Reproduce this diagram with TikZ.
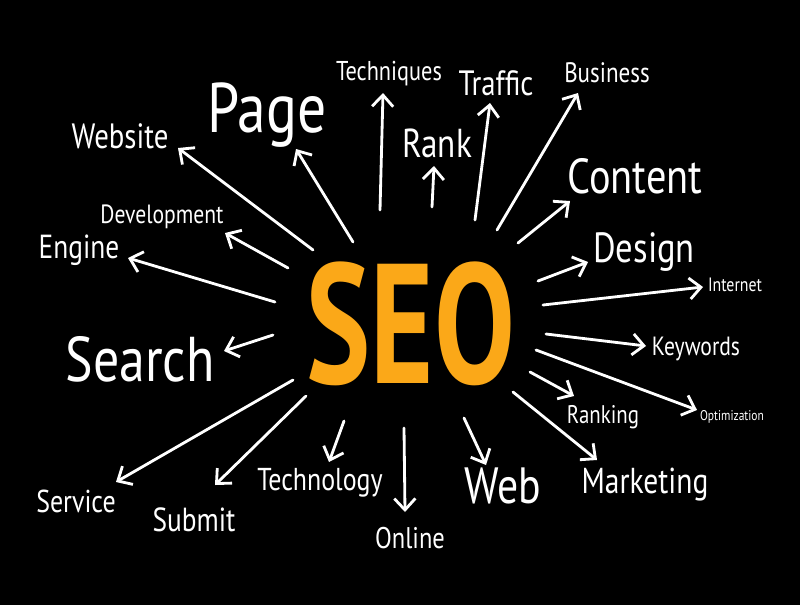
\documentclass[tikz,border=0pt]{standalone}
\usepackage{fontspec}
\setmainfont{PT Sans}[FakeStretch=0.82]
\newfontfamily\seofont{PT Sans}[FakeStretch=0.71]
\usetikzlibrary{arrows.meta}
\definecolor{seoorange}{RGB}{251,168,24}
\tikzset{
  word/.style={text=white, inner sep=0pt, anchor=base, font=\fontsize{#1}{#1}\selectfont},
  ray/.style={draw=white, line width=1.6pt, line cap=round,
    -{Straight Barb[length=6.5pt,width=12pt]}}
}

\begin{document}
\begin{tikzpicture}[x=0.02cm, y=-0.02cm]
      \fill[black] (0,0) rectangle (800,605);
      \useasboundingbox (0,0) rectangle (800,605);

      % MOT CENTRAL
      \node[word=97, text=seoorange, font=\fontsize{97}{97}\selectfont\seofont\bfseries] (seo) at (411,383) {SEO};

      % MOTS AUTOUR
      \node[word=40] (page) at (267,132) {Page};
      \node[word=15.5] (techniques) at (389,80) {Techniques};
      \node[word=20] (traffic) at (496,95) {Traffic};
      \node[word=16] (business) at (607,82) {Business};
      \node[word=23] (rank) at (437,157) {Rank};
      \node[word=20] (website) at (120,148) {Website};
      \node[word=28] (content) at (635,193) {Content};
      \node[word=15] (development) at (162,223) {Development};
      \node[word=19] (engine) at (79,258) {Engine};
      \node[word=24] (design) at (644,262) {Design};
      \node[word=11] (internet) at (735,291) {Internet};
      \node[word=36] (search) at (140,381) {Search};
      \node[word=15] (keywords) at (696,355) {Keywords};
      \node[word=14.5] (ranking) at (603,423) {Ranking};
      \node[word=8] (optimization) at (732,420) {Optimization};
      \node[word=18] (service) at (76,512) {Service};
      \node[word=19] (submit) at (194,531) {Submit};
      \node[word=18] (technology) at (320,490) {Technology};
      \node[word=17] (online) at (410,548) {Online};
      \node[word=29] (web) at (503,503) {Web};
      \node[word=20.5] (marketing) at (645,493) {Marketing};

      % DEPARTS DES FLECHES
      \coordinate (Awebsite) at (313,250);
      \coordinate (Apage) at (353,242);
      \coordinate (Atech) at (380,210);
      \coordinate (Arank) at (432,207);
      \coordinate (Atraffic) at (475,220);
      \coordinate (Abusiness) at (497,230);
      \coordinate (Acontent) at (518,243);
      \coordinate (Adesign) at (538,281);
      \coordinate (Ainternet) at (543,305);
      \coordinate (Akeywords) at (546,334);
      \coordinate (Aoptim) at (536,350);
      \coordinate (Aranking) at (530,372);
      \coordinate (Amarketing) at (513,392);
      \coordinate (Aweb) at (464,418);
      \coordinate (Aonline) at (404,428);
      \coordinate (Atechno) at (344,421);
      \coordinate (Asubmit) at (306,396);
      \coordinate (Aservice) at (293,380);
      \coordinate (Asearch) at (273,335);
      \coordinate (Aengine) at (275,302);
      \coordinate (Adevel) at (288,268);

      % POINTES DES FLECHES
      \coordinate (Bwebsite) at (178,148);
      \coordinate (Bpage) at (296,149);
      \coordinate (Btech) at (383,93);
      \coordinate (Brank) at (434,166);
      \coordinate (Btraffic) at (490,103);
      \coordinate (Bbusiness) at (578,93);
      \coordinate (Bcontent) at (570,201);
      \coordinate (Bdesign) at (588,262);
      \coordinate (Binternet) at (703,287);
      \coordinate (Bkeywords) at (646,346);
      \coordinate (Boptim) at (697,410);
      \coordinate (Branking) at (574,396);
      \coordinate (Bmarketing) at (597,460);
      \coordinate (Bweb) at (486,465);
      \coordinate (Bonline) at (405,512);
      \coordinate (Btechno) at (329,462);
      \coordinate (Bsubmit) at (215,485);
      \coordinate (Bservice) at (116,482);
      \coordinate (Bsearch) at (224,351);
      \coordinate (Bengine) at (128,258);
      \coordinate (Bdevel) at (225,233);

      % FLECHES
      \foreach \w in {website,page,tech,rank,traffic,business,content,design,internet,keywords,
                      optim,ranking,marketing,web,online,techno,submit,service,search,engine,devel}
        \draw[ray] (A\w) -- (B\w);
\end{tikzpicture}
\end{document}
